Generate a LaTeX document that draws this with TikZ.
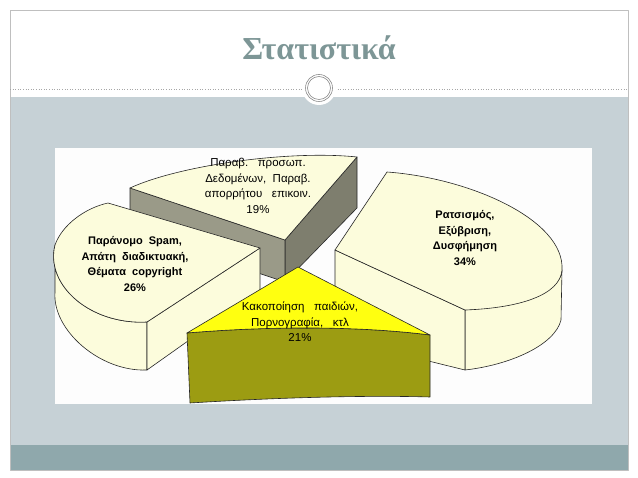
\documentclass[tikz,border=0pt]{standalone}
\usepackage{fontspec}
\setmainfont{Liberation Sans}
\newfontfamily\titlefont{Liberation Serif}
\begin{document}
\begin{tikzpicture}[x=1pt,y=-1pt,line join=round,
  edge/.style={draw=black!85,line width=0.6pt},
  cream/.style={edge,fill=creamc},
  lbl/.style={align=center,font=\fontsize{11.5}{15.5}\selectfont,inner sep=0pt},
  blbl/.style={lbl,font=\bfseries\fontsize{11}{15.5}\selectfont}]
\definecolor{creamc}{HTML}{FCFCDC}
\definecolor{bandc}{HTML}{C6D1D6}
\definecolor{footc}{HTML}{8FA8AC}
\definecolor{titlec}{HTML}{7D9696}
\definecolor{grayface}{HTML}{9A9A88}
\definecolor{graydark}{HTML}{7E7E6E}
\definecolor{olive}{HTML}{9C9C12}
\definecolor{yel}{HTML}{FFFF10}
\useasboundingbox (0,0) rectangle (638,478);
\fill[white] (0,0) rectangle (638,478);
% slide frame
\fill[bandc] (10,97) rectangle (628,445);
\fill[footc] (10,445) rectangle (628,470);
\draw[black!25,line width=0.5pt] (10,10) rectangle (628,470);
\draw[black!35,dotted,line width=0.6pt] (10,89) -- (628,89);
\fill[white] (319,88) circle (17);
\draw[black!45,line width=0.6pt] (319,88) circle (13.5);
\draw[black!45,line width=0.6pt] (319,88) circle (11.5);
\node[font=\titlefont\bfseries\fontsize{32}{36}\selectfont,text=titlec] (title) at (319,48) {Στατιστικά};
% chart picture background
\fill[white!96!bandc] (55,148) rectangle (592,404);
% gray slice 19%
\fill[graydark,edge] (285,240) -- (357,157) -- (357,208) -- (285,282) -- cycle;
\fill[grayface,edge] (130,188) -- (285,240) -- (285,282) -- (130,230) -- cycle;
\draw[cream] (130,188) .. controls (180,165) and (290,150) .. (357,157) -- (285,240) -- cycle;
% left slice 26%
\draw[cream] (147,322) .. controls (90,325) and (45,285) .. (55,245) -- (55,292) .. controls (52,330) and (100,372) .. (147,370) -- cycle;
\draw[cream] (260,248) -- (147,322) -- (147,370) -- (260,290) -- cycle;
\draw[cream] (108,203) -- (260,248) -- (147,322) .. controls (90,325) and (45,285) .. (55,245) .. controls (62,225) and (85,208) .. (108,203) -- cycle;
% right slice 34%
\draw[cream] (465,310) .. controls (520,305) and (562,290) .. (562,270) -- (561,320) .. controls (555,345) and (510,365) .. (465,370) -- cycle;
\draw[cream] (335,250) -- (465,310) -- (465,370) -- (335,338) -- cycle;
\draw[cream] (335,250) -- (387,172) .. controls (470,178) and (565,220) .. (562,270) .. controls (560,295) and (520,308) .. (465,310) -- cycle;
% yellow slice 21%
\draw[edge,fill=olive] (187,333) .. controls (270,326) and (360,326) .. (430,335) -- (430,397) .. controls (360,395) and (270,398) .. (190,403) -- cycle;
\draw[edge,fill=yel] (298,267) -- (430,335) .. controls (360,326) and (270,326) .. (187,333) -- cycle;
% labels
\node[lbl] (g) at (258,186) {Παραβ.\ \ \ προσωπ.\\Δεδομένων,\ \ Παραβ.\\απορρήτου\ \ \ επικοιν.\\19\%};
\node[blbl] (r) at (465,238) {Ρατσισμός,\\Εξύβριση,\\Δυσφήμηση\\34\%};
\node[blbl] (l) at (135,264) {Παράνομο\ \ Spam,\\Απάτη\ \ διαδικτυακή,\\Θέματα\ \ copyright\\26\%};
\node[lbl] (y) at (300,322) {Κακοποίηση\ \ \ παιδιών,\\Πορνογραφία,\ \ \ κτλ\\21\%};
\end{tikzpicture}
\end{document}
